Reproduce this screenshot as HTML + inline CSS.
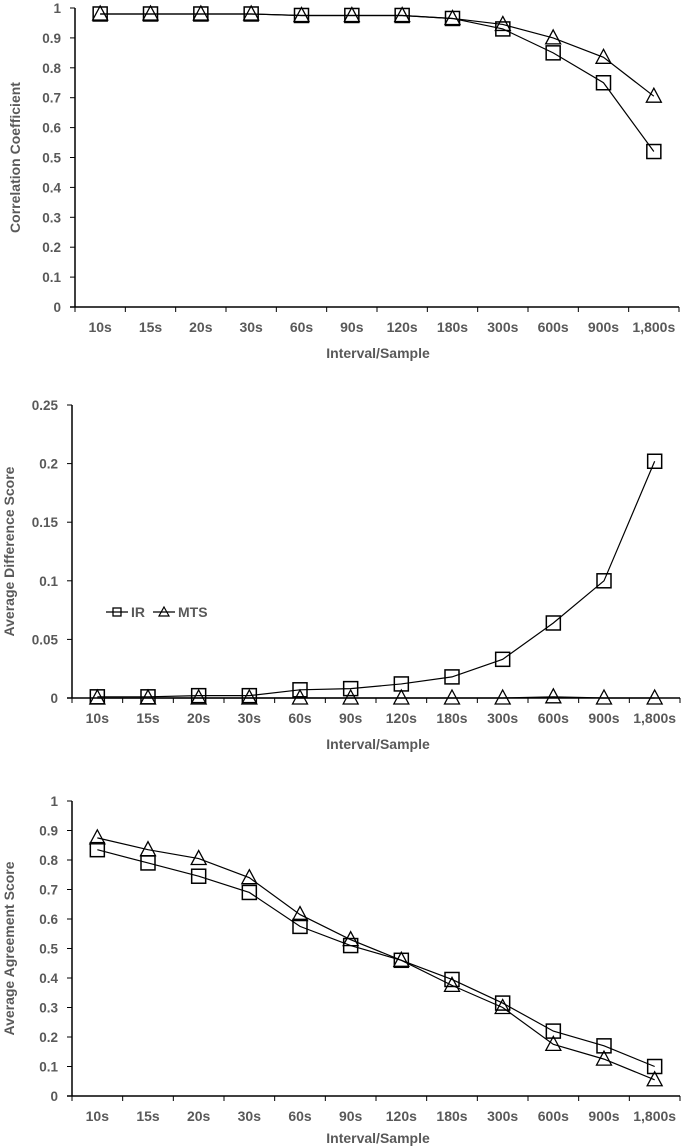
<!DOCTYPE html>
<html><head><meta charset="utf-8"><style>
html,body{margin:0;padding:0;background:#fff;}
svg{display:block;}
text{font-family:"Liberation Sans",sans-serif;font-weight:bold;fill:#595959;}
</style></head><body>
<svg id="svg" width="685" height="1148" viewBox="0 0 685 1148" xmlns="http://www.w3.org/2000/svg"></svg>
<script>
const categories=["10s","15s","20s","30s","60s","90s","120s","180s","300s","600s","900s","1,800s"];
const corrIR=[0.98,0.98,0.98,0.98,0.975,0.975,0.975,0.965,0.93,0.85,0.75,0.52];
const corrMTS=[0.98,0.98,0.98,0.98,0.975,0.975,0.975,0.965,0.945,0.90,0.835,0.705];
const corrTicks=["0","0.1","0.2","0.3","0.4","0.5","0.6","0.7","0.8","0.9","1"];
const diffIR=[0.001,0.001,0.002,0.002,0.007,0.008,0.012,0.018,0.033,0.064,0.1,0.202];
const diffMTS=[0,0,0,0,0,0,0,0,0,0.001,0,0];
const diffTicks=["0","0.05","0.1","0.15","0.2","0.25"];
const agreeIR=[0.835,0.79,0.745,0.69,0.575,0.51,0.46,0.395,0.315,0.22,0.17,0.10];
const agreeMTS=[0.875,0.835,0.805,0.74,0.615,0.53,0.46,0.375,0.30,0.175,0.125,0.055];
const agreeTicks=corrTicks;

const svg=document.getElementById('svg');
const NS='http://www.w3.org/2000/svg';
function mk(tag,attrs,parent){const e=document.createElementNS(NS,tag);for(const k in attrs)e.setAttribute(k,attrs[k]);(parent||svg).appendChild(e);return e;}

function chart(cfg){
  const g=mk('g',{});
  
  
  const {x0,x1,yTop,yBot,max,ticks}=cfg;
  const band=(x1-x0)/categories.length;
  const xs=i=>x0+band*(i+0.5);
  const ys=v=>yBot-(v/max)*(yBot-yTop);
  const ya=mk('line',{x1:x0,y1:yTop,x2:x0,y2:yBot,stroke:'#000','stroke-width':1.5},g);
  
  
  ticks.forEach((t,i)=>{
    const v=parseFloat(t);const y=ys(v);
    mk('line',{x1:x0-5,y1:y,x2:x0,y2:y,stroke:'#000','stroke-width':1},g);
    const tx=mk('text',{x:x0-14,y:y+5,'text-anchor':'end','font-size':13.5},g);
    tx.textContent=t;
    
    
  });
  const xa=mk('line',{x1:x0-5,y1:yBot,x2:x1,y2:yBot,stroke:'#000','stroke-width':1.5},g);
  
  
  for(let i=0;i<=categories.length;i++){
    mk('line',{x1:x0+band*i,y1:yBot,x2:x0+band*i,y2:yBot+5,stroke:'#000','stroke-width':1},g);
  }
  categories.forEach((c,i)=>{
    const tx=mk('text',{x:xs(i),y:yBot+25,'text-anchor':'middle','font-size':14},g);
    tx.textContent=c;
    
    
  });
  const xt=mk('text',{x:cfg.xtX,y:cfg.xtY,'text-anchor':'middle','font-size':14},g);
  xt.textContent='Interval/Sample';
  
  
  const yt=mk('text',{x:0,y:0,'text-anchor':'middle','font-size':14,transform:`translate(${cfg.ytX},${(yTop+yBot)/2}) rotate(-90)`},g);
  yt.textContent=cfg.ytitle;
  
  
  [[cfg.ir,'sq','ir'],[cfg.mts,'tri','mts']].forEach(([arr,shape,nm])=>{
    const pts=arr.map((v,i)=>xs(i)+','+ys(v)).join(' ');
    const pl=mk('polyline',{points:pts,fill:'none',stroke:'#000','stroke-width':1.2},g);
    
    
    arr.forEach((v,i)=>{
      const m=marker(shape,xs(i),ys(v),g);
      
      
    });
  });
}
function marker(shape,x,y,g){
  if(shape==='sq') return mk('rect',{x:x-7,y:y-7,width:14,height:14,fill:'none',stroke:'#000','stroke-width':1.5},g);
  return mk('polygon',{points:`${x},${y-8} ${x+7.5},${y+6} ${x-7.5},${y+6}`,fill:'none',stroke:'#000','stroke-width':1.3},g);
}
chart({name:'correlation-chart',x0:75,x1:679,yTop:8,yBot:307,max:1,ticks:corrTicks,ir:corrIR,mts:corrMTS,xtX:378,xtY:358,ytX:20,ytitle:'Correlation Coefficient'});
chart({name:'difference-chart',x0:72,x1:680,yTop:405,yBot:698,max:0.25,ticks:diffTicks,ir:diffIR,mts:diffMTS,xtX:378,xtY:749,ytX:14,ytitle:'Average Difference Score'});
chart({name:'agreement-chart',x0:72,x1:680,yTop:801,yBot:1096,max:1,ticks:agreeTicks,ir:agreeIR,mts:agreeMTS,xtX:378,xtY:1143,ytX:14,ytitle:'Average Agreement Score'});
const lg=mk('g',{});


mk('line',{x1:106,y1:612,x2:128,y2:612,stroke:'#000','stroke-width':1.2},lg);
mk('rect',{x:113,y:608,width:8,height:8,fill:'none',stroke:'#000','stroke-width':1.3},lg);
const l1=mk('text',{x:131,y:617,'font-size':14},lg);l1.textContent='IR';


mk('line',{x1:153,y1:612,x2:175,y2:612,stroke:'#000','stroke-width':1.2},lg);
mk('polygon',{points:'164,607 169,616 159,616',fill:'none',stroke:'#000','stroke-width':1.2},lg);
const l2=mk('text',{x:178,y:617,'font-size':14},lg);l2.textContent='MTS';


</script>
</body></html>
